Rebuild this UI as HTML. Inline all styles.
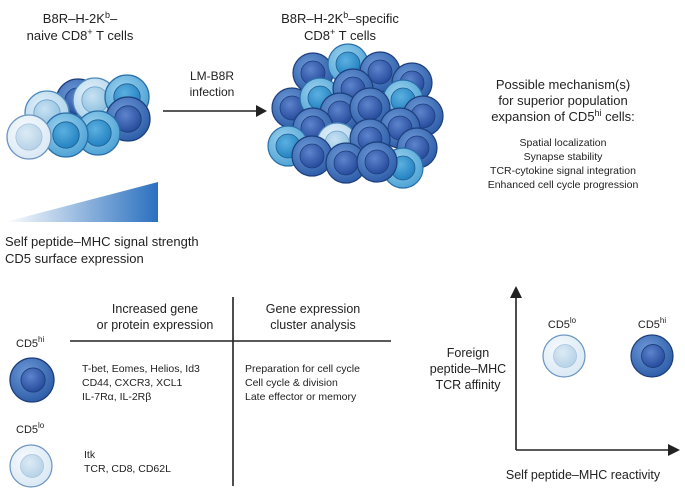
<!DOCTYPE html>
<html><head><meta charset="utf-8"><style>
html,body{margin:0;padding:0;background:#fff}
svg{display:block}
text{font-family:"Liberation Sans",Arial,sans-serif;fill:#222}
</style></head><body>
<svg width="685" height="494" viewBox="0 0 685 494" xmlns="http://www.w3.org/2000/svg">
<defs>
<radialGradient id="dO" cx="0.4" cy="0.35" r="0.7"><stop offset="0" stop-color="#6f9ad8"/><stop offset="1" stop-color="#2a5aa6"/></radialGradient>
<radialGradient id="dI" cx="0.4" cy="0.35" r="0.7"><stop offset="0" stop-color="#5d84cc"/><stop offset="1" stop-color="#23489a"/></radialGradient>
<radialGradient id="mO" cx="0.4" cy="0.35" r="0.7"><stop offset="0" stop-color="#9dd3ee"/><stop offset="1" stop-color="#4aa0d4"/></radialGradient>
<radialGradient id="mI" cx="0.4" cy="0.35" r="0.7"><stop offset="0" stop-color="#5cb0e0"/><stop offset="1" stop-color="#1f7fbf"/></radialGradient>
<radialGradient id="lO" cx="0.4" cy="0.35" r="0.7"><stop offset="0" stop-color="#e4f1fa"/><stop offset="1" stop-color="#a9d0ea"/></radialGradient>
<radialGradient id="lI" cx="0.4" cy="0.35" r="0.7"><stop offset="0" stop-color="#c8e2f2"/><stop offset="1" stop-color="#8ebfe0"/></radialGradient>
<radialGradient id="pO" cx="0.4" cy="0.35" r="0.7"><stop offset="0" stop-color="#f6fafd"/><stop offset="1" stop-color="#d9e8f4"/></radialGradient>
<radialGradient id="pI" cx="0.4" cy="0.35" r="0.7"><stop offset="0" stop-color="#dcebf5"/><stop offset="1" stop-color="#b4d0e6"/></radialGradient>
<linearGradient id="tri" x1="0" x2="1" y1="0" y2="0"><stop offset="0" stop-color="#fff"/><stop offset="1" stop-color="#2a70bf"/></linearGradient>
<g id="cd"><circle r="20" fill="url(#dO)" stroke="#1d3f7c" stroke-width="1.2"/><circle r="12" fill="url(#dI)" stroke="#1d3f7c" stroke-width="0.8"/></g>
<g id="cm"><circle r="20" fill="url(#mO)" stroke="#2a6fa8" stroke-width="1.2"/><circle r="12" fill="url(#mI)" stroke="#1e5f96" stroke-width="0.8"/></g>
<g id="cl"><circle r="20" fill="url(#lO)" stroke="#4f8bbd" stroke-width="1.2"/><circle r="12" fill="url(#lI)" stroke="#6ea4cc" stroke-width="0.8"/></g>
<g id="cp"><circle r="20" fill="url(#pO)" stroke="#6f97c4" stroke-width="1.2"/><circle r="12" fill="url(#pI)" stroke="#9fbfdc" stroke-width="0.6"/></g>
</defs>

<text x="80" y="23" font-size="13" text-anchor="middle">B8R–H-2K<tspan font-size="9" dy="-5">b</tspan><tspan dy="5">–</tspan></text>
<text x="80" y="40" font-size="13" text-anchor="middle">naive CD8<tspan font-size="9" dy="-5">+</tspan><tspan dy="5"> T cells</tspan></text>

<g transform="translate(78,101) scale(1.1)"><use href="#cd"/></g>
<g transform="translate(47,113) scale(1.1)"><use href="#cl"/></g>
<g transform="translate(95,100) scale(1.1)"><use href="#cl"/></g>
<g transform="translate(127,97) scale(1.1)"><use href="#cm"/></g>
<g transform="translate(128,119) scale(1.1)"><use href="#cd"/></g>
<g transform="translate(98,133) scale(1.1)"><use href="#cm"/></g>
<g transform="translate(66,135) scale(1.1)"><use href="#cm"/></g>
<g transform="translate(29,137) scale(1.1)"><use href="#cp"/></g>

<polygon points="5,222 158,182 158,222" fill="url(#tri)"/>
<text x="5" y="246" font-size="13">Self peptide–MHC signal strength</text>
<text x="5" y="263" font-size="13">CD5 surface expression</text>

<text x="212" y="80" font-size="12" text-anchor="middle">LM-B8R</text>
<text x="212" y="96" font-size="12" text-anchor="middle">infection</text>
<line x1="163" y1="111" x2="258" y2="111" stroke="#222" stroke-width="1.6"/>
<polygon points="256,105 267,111 256,117" fill="#222"/>

<text x="340" y="23" font-size="13" text-anchor="middle">B8R–H-2K<tspan font-size="9" dy="-5">b</tspan><tspan dy="5">–specific</tspan></text>
<text x="340" y="40" font-size="13" text-anchor="middle">CD8<tspan font-size="9" dy="-5">+</tspan><tspan dy="5"> T cells</tspan></text>

<use href="#cd" x="313" y="73"/>
<use href="#cm" x="348" y="64"/>
<use href="#cd" x="380" y="72"/>
<use href="#cd" x="412" y="83"/>
<use href="#cd" x="292" y="108"/>
<use href="#cm" x="320" y="98"/>
<use href="#cd" x="353" y="89"/>
<use href="#cm" x="403" y="100"/>
<use href="#cd" x="423" y="116"/>
<use href="#cd" x="340" y="113"/>
<use href="#cd" x="370" y="108"/>
<use href="#cd" x="313" y="128"/>
<use href="#cd" x="400" y="128"/>
<use href="#cm" x="288" y="146"/>
<use href="#cl" x="337" y="143"/>
<use href="#cd" x="370" y="139"/>
<use href="#cd" x="417" y="148"/>
<use href="#cd" x="312" y="156"/>
<use href="#cd" x="346" y="163"/>
<use href="#cm" x="403" y="168"/>
<use href="#cd" x="377" y="162"/>

<text x="563" y="89" font-size="13" text-anchor="middle">Possible mechanism(s)</text>
<text x="563" y="105" font-size="13" text-anchor="middle">for superior population</text>
<text x="563" y="121" font-size="13" text-anchor="middle">expansion of CD5<tspan font-size="9" dy="-5">hi</tspan><tspan dy="5"> cells:</tspan></text>
<text x="563" y="146" font-size="10.5" text-anchor="middle">Spatial localization</text>
<text x="563" y="160" font-size="10.5" text-anchor="middle">Synapse stability</text>
<text x="563" y="174" font-size="10.5" text-anchor="middle">TCR-cytokine signal integration</text>
<text x="563" y="188" font-size="10.5" text-anchor="middle">Enhanced cell cycle progression</text>

<line x1="233" y1="297" x2="233" y2="486" stroke="#222" stroke-width="1.6"/>
<line x1="70" y1="341" x2="391" y2="341" stroke="#222" stroke-width="1.6"/>
<text x="155" y="313" font-size="12.5" text-anchor="middle">Increased gene</text>
<text x="155" y="329" font-size="12.5" text-anchor="middle">or protein expression</text>
<text x="313" y="313" font-size="12.5" text-anchor="middle">Gene expression</text>
<text x="313" y="329" font-size="12.5" text-anchor="middle">cluster analysis</text>
<text x="16" y="347" font-size="11">CD5<tspan font-size="8" dy="-5">hi</tspan></text>
<g transform="translate(32,380) scale(1.1)"><circle r="20" fill="url(#dO)" stroke="#1d3f7c" stroke-width="1.2"/><circle r="11" cx="1" fill="url(#dI)" stroke="#1d3f7c" stroke-width="0.8"/></g>
<text x="16" y="433" font-size="11">CD5<tspan font-size="8" dy="-5">lo</tspan></text>
<g transform="translate(31,466) scale(1.05)"><circle r="20" fill="url(#pO)" stroke="#6f97c4" stroke-width="1.2"/><circle r="11" cx="1" fill="url(#pI)" stroke="#9fbfdc" stroke-width="0.6"/></g>
<text x="82" y="372" font-size="10.5">T-bet, Eomes, Helios, Id3</text>
<text x="82" y="386" font-size="10.5">CD44, CXCR3, XCL1</text>
<text x="82" y="400" font-size="10.5">IL-7Rα, IL-2Rβ</text>
<text x="245" y="372" font-size="10.5">Preparation for cell cycle</text>
<text x="245" y="386" font-size="10.5">Cell cycle &amp; division</text>
<text x="245" y="400" font-size="10.5">Late effector or memory</text>
<text x="84" y="458" font-size="10.5">Itk</text>
<text x="84" y="472" font-size="10.5">TCR, CD8, CD62L</text>

<line x1="516" y1="296" x2="516" y2="450" stroke="#222" stroke-width="1.6"/>
<polygon points="510,298 516,286 522,298" fill="#222"/>
<line x1="516" y1="450" x2="670" y2="450" stroke="#222" stroke-width="1.6"/>
<polygon points="668,444 680,450 668,456" fill="#222"/>
<text x="468" y="357" font-size="12.5" text-anchor="middle">Foreign</text>
<text x="468" y="373" font-size="12.5" text-anchor="middle">peptide–MHC</text>
<text x="468" y="389" font-size="12.5" text-anchor="middle">TCR affinity</text>
<text x="562" y="328" font-size="11" text-anchor="middle">CD5<tspan font-size="8" dy="-5">lo</tspan></text>
<text x="652" y="328" font-size="11" text-anchor="middle">CD5<tspan font-size="8" dy="-5">hi</tspan></text>
<g transform="translate(564,356) scale(1.05)"><circle r="20" fill="url(#pO)" stroke="#6f97c4" stroke-width="1.2"/><circle r="11" cx="1" fill="url(#pI)" stroke="#9fbfdc" stroke-width="0.6"/></g>
<g transform="translate(652,356) scale(1.05)"><circle r="20" fill="url(#dO)" stroke="#1d3f7c" stroke-width="1.2"/><circle r="11" cx="1" fill="url(#dI)" stroke="#1d3f7c" stroke-width="0.8"/></g>
<text x="583" y="479" font-size="12.5" text-anchor="middle">Self peptide–MHC reactivity</text>
</svg>
</body></html>
